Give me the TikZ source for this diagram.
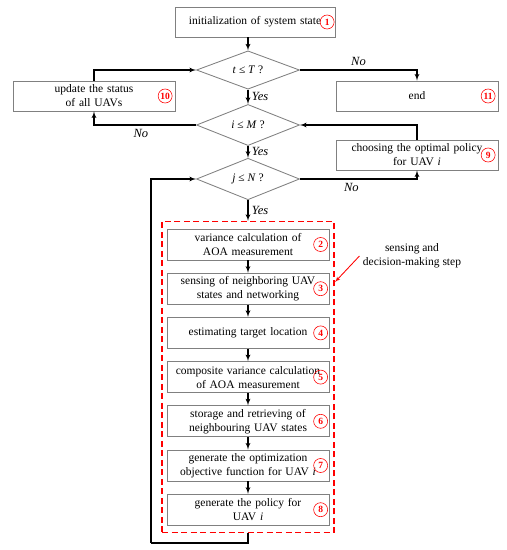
\documentclass[tikz,border=0pt]{standalone}
\usepackage{fontspec}
\setmainfont{Liberation Serif}
\usepackage{xcolor}
\usetikzlibrary{positioning, arrows, shapes, fit}
\tikzstyle{line} = [draw, -latex', line width=0.45mm]
\tikzstyle{block} = [rectangle, draw=gray, line width=0.3mm,
    text width=158pt, align=center, minimum width=162pt, minimum height=30pt, inner sep=0pt]
\tikzstyle{decision} = [diamond, draw=gray, line width=0.3mm,
    minimum width=103pt, minimum height=30pt, inner sep=0pt]
\tikzstyle{num} = [circle, draw=red, text=red, line width=0.2mm,
    font=\fontsize{9.5}{10}\selectfont\bfseries, inner sep=0pt, minimum size=14pt]
\tikzstyle{lab} = [font=\fontsize{12.5}{14}\selectfont\itshape]

\begin{document}
\begin{tikzpicture}[x=1pt, y=-1pt, node distance=44.2pt,
    every node/.style={font=\fontsize{11.5}{14}\selectfont}]
        \useasboundingbox (0,0) rectangle (507,550);
        % Place nodes
        \node [block, minimum width=160pt] (init) at (255,22) {initialization of system state};
        \node [decision] (tT) at (248,70) {\textit{t} ≤ \textit{T} ?};
        \node [decision] (iM) at (248,125) {\textit{i} ≤ \textit{M} ?};
        \node [decision] (jN) at (248,179) {\textit{j} ≤ \textit{N} ?};
        \node [block] (update) at (94,96) {update the status\\of all UAVs};
        \node [block] (end) at (417,96) {end};
        \node [block] (choose) at (417,155) {choosing the optimal policy\\for UAV \textit{i}};
        \node [block, minimum height=31pt] (var) at (248,244.5) {variance calculation of\\AOA measurement};
        \node [block, minimum height=31pt, below of=var] (sense) {sensing of neighboring UAV\\states and networking};
        \node [block, minimum height=31pt, below of=sense] (est) {estimating target location};
        \node [block, minimum height=31pt, below of=est] (comp) {composite variance calculation\\of AOA measurement};
        \node [block, minimum height=31pt, below of=comp] (store) {storage and retrieving of\\neighbouring UAV states};
        \node [block, minimum height=31pt, below of=store] (obj) {generate the optimization\\objective function for UAV \textit{i}};
        \node [block, minimum height=31pt, below of=obj] (policy) {generate the policy for\\UAV \textit{i}};
        \node [draw=red, dash pattern=on 6pt off 3.5pt, line width=0.45mm, inner xsep=4.5pt, inner ysep=7pt, fit=(var)(policy)] (step) {};
        \node [align=center] (note) at (412,256) {sensing and\\decision-making step};
        % Circled numbers
        \node [num, left=1pt of init.east] (n1) {1};
        \node [num, left=1.5pt of var.east] (n2) {2};
        \node [num, left=1.5pt of sense.east] (n3) {3};
        \node [num, left=1.5pt of est.east] (n4) {4};
        \node [num, left=1.5pt of comp.east] (n5) {5};
        \node [num, left=1.5pt of store.east] (n6) {6};
        \node [num, left=1.5pt of obj.east] (n7) {7};
        \node [num, left=1.5pt of policy.east] (n8) {8};
        \node [num, left=3pt of choose.east] (n9) {9};
        \node [num, left=3pt of update.east] (n10) {10};
        \node [num, left=3pt of end.east] (n11) {11};
        % Draw edges
        \path [line] (init.south -| tT.north) -- (tT.north);
        \path [line] (tT) -- node [lab, right] {Yes} (iM);
        \path [line] (iM) -- node [lab, right] {Yes} (jN);
        \path [line] (jN) -- node [lab, right] {Yes} (step.north);
        \path [line] (tT.east) -| node [lab, pos=0.25, above] {No} (end.north);
        \path [line] (iM.west) -| node [lab, pos=0.27, below] {No} (update.south);
        \path [line] (update.north) |- (tT.west);
        \path [line] (jN.east) -| node [lab, pos=0.22, below] {No} (choose.south);
        \path [line] (choose.north) |- (iM.east);
        \path [line] (var) -- (sense);
        \path [line] (sense) -- (est);
        \path [line] (est) -- (comp);
        \path [line] (comp) -- (store);
        \path [line] (store) -- (obj);
        \path [line] (obj) -- (policy);
        \coordinate (back) at (151,543);
        \draw [line width=0.45mm] (step.south) |- (back);
        \path [line] (back) |- (jN.west);
        \coordinate (hit) at (335,282);
        \draw [red, -latex', line width=0.3mm] (note.west) -- (hit);
      \end{tikzpicture}
\end{document}
